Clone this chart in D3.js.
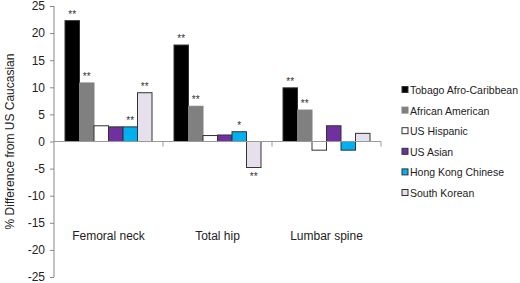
<!DOCTYPE html>
<html>
<head>
<meta charset="utf-8">
<script src="https://cdn.jsdelivr.net/npm/d3@7"></script>
<style>
  body { margin: 0; background: #fff; }
  text { font-family: "Liberation Sans", Arial, sans-serif; }
</style>
</head>
<body>
<svg width="520" height="283"></svg>
<script>
// categories (bone sites) and series (groups)
const sites = ['Femoral neck', 'Total hip', 'Lumbar spine'];
const groups = ['Tobago Afro-Caribbean', 'African American', 'US Hispanic', 'US Asian', 'Hong Kong Chinese', 'South Korean'];
const colors = ['#000000', '#808080', '#ffffff', '#7030a0', '#00b0f0', '#e6e0ec'];

// % difference, one array per site, in group order
const femoralNeck = [22.3, 10.8, 2.9, 2.7, 2.7, 9.0];
const totalHip = [17.8, 6.5, 1.1, 1.2, 1.8, -4.8];
const lumbarSpine = [9.9, 5.8, -1.6, 2.9, -1.6, 1.5];

// significance marks
const femoralNeckSig = ['**', '**', '', '', '**', '**'];
const totalHipSig = ['**', '**', '', '', '*', '**'];
const lumbarSpineSig = ['**', '**', '', '', '', ''];

const yTicks = [-25, -20, -15, -10, -5, 0, 5, 10, 15, 20, 25];

const values = [femoralNeck, totalHip, lumbarSpine];
const sigs = [femoralNeckSig, totalHipSig, lumbarSpineSig];

const svg = d3.select('svg');

const x0 = d3.scaleBand().domain(sites).range([54, 381]);
const x1 = d3.scaleBand().domain(groups).range([11, x0.bandwidth() - 11]);
const y = d3.scaleLinear().domain([-25, 25]).range([277, 6]);

// y axis, plain hyphen for negatives like the original
const yAxis = d3.axisLeft(y).tickValues(yTicks).tickSize(4).tickPadding(5)
  .tickFormat(d => String(d));
const gy = svg.append('g').attr('transform', 'translate(54,0)').call(yAxis);
gy.select('.domain').attr('stroke', '#888').attr('d', 'M0,' + y(-25) + 'V' + y(25));
gy.selectAll('.tick line').attr('stroke', '#888');
gy.selectAll('.tick text').attr('fill', '#222').style('font-size', '12px')
  .style('font-family', '"Liberation Sans", Arial, sans-serif');

// bars
const rows = [];
sites.forEach((s, i) => {
  groups.forEach((g, j) => {
    rows.push({site: s, group: g, v: values[i][j], sig: sigs[i][j], c: colors[j]});
  });
});

svg.append('g').selectAll('rect')
  .data(rows)
  .enter()
  .append('rect')
    .attr('x', d => x0(d.site) + x1(d.group))
    .attr('y', d => y(Math.max(0, d.v)))
    .attr('width', x1.bandwidth())
    .attr('height', d => Math.abs(y(d.v) - y(0)))
    .attr('fill', d => d.c)
    .attr('stroke', d => d.c == '#808080' ? '#808080' : '#333')
    .attr('stroke-width', 1);

// x axis at zero
const zeroY = y(0);
svg.append('line')
  .attr('x1', 54).attr('x2', 381)
  .attr('y1', zeroY).attr('y2', zeroY)
  .attr('stroke', '#999');
svg.selectAll('.cattick')
  .data(sites)
  .enter()
  .append('line')
    .attr('x1', d => x0(d) + x0.bandwidth())
    .attr('x2', d => x0(d) + x0.bandwidth())
    .attr('y1', zeroY).attr('y2', zeroY + 5)
    .attr('stroke', '#999');

// significance stars
svg.append('g').selectAll('text')
  .data(rows.filter(d => d.sig))
  .enter()
  .append('text')
    .attr('x', d => x0(d.site) + x1(d.group) + x1.bandwidth() / 2)
    .attr('y', d => d.v >= 0 ? y(d.v) - 3 : y(d.v) + 12)
    .attr('text-anchor', 'middle')
    .style('font-size', '10px')
    .attr('fill', '#333')
    .text(d => d.sig);

// category labels
svg.append('g').selectAll('text')
  .data(sites)
  .enter()
  .append('text')
    .attr('x', d => x0(d) + x0.bandwidth() / 2)
    .attr('y', 240)
    .attr('text-anchor', 'middle')
    .style('font-size', '12px')
    .attr('fill', '#222')
    .text(d => d);

// y label
svg.append('text')
  .attr('transform', 'translate(14,' + y(0) + ') rotate(-90)')
  .attr('text-anchor', 'middle')
  .style('font-size', '12px')
  .attr('fill', '#222')
  .text('% Difference from US Caucasian');

// legend
const legend = svg.append('g').selectAll('g')
  .data(groups)
  .enter()
  .append('g')
    .attr('transform', (d, i) => 'translate(402,' + (90 + i * 20.6) + ')');
legend.append('rect')
  .attr('x', 0).attr('y', -3.5)
  .attr('width', 6).attr('height', 6)
  .attr('fill', (d, i) => colors[i])
  .attr('stroke', (d, i) => i == 1 ? '#808080' : '#333');
legend.append('text')
  .attr('x', 8).attr('y', 4)
  .style('font-size', '10.5px')
  .attr('fill', '#222')
  .text(d => d);
</script>
</body>
</html>
